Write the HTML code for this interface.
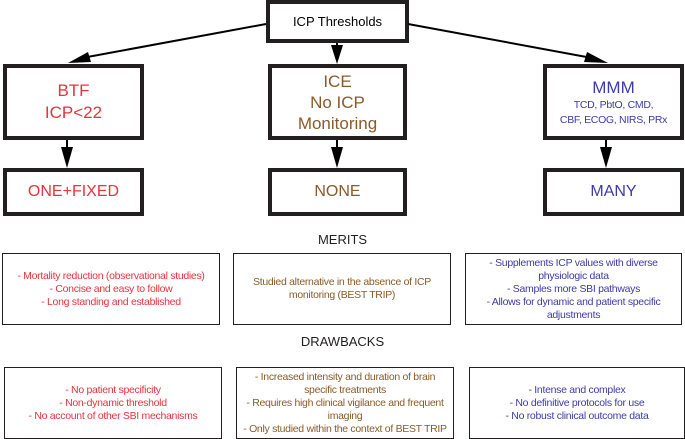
<!DOCTYPE html>
<html><head><meta charset="utf-8"><style>
body{margin:0;width:685px;height:439px;background:#fff;position:relative;overflow:hidden;font-family:"Liberation Sans",sans-serif}
.b{position:absolute;box-sizing:border-box;display:flex;align-items:center;justify-content:center;text-align:center}
.t{border:4px solid #231f20}
.s{border:1.5px solid #231f20;font-size:10.5px;line-height:13px;letter-spacing:-0.3px}
.r{color:#e8323c}.br{color:#8a5a2b}.bl{color:#3d3ba8}
.h{position:absolute;width:685px;text-align:center;font-size:13px;color:#231f20}
</style></head><body>
<div class="b t" style="left:266px;top:0;width:143px;height:43px;font-size:13px;background:#fff">ICP Thresholds</div>
<div class="b t r" style="left:3px;top:64px;width:141px;height:76px;font-size:17px;line-height:22px">BTF<br>ICP&lt;22</div>
<div class="b t br" style="left:268px;top:64px;width:139px;height:76px;font-size:17px;line-height:21px">ICE<br>No ICP<br>Monitoring</div>
<div class="b t bl" style="left:543px;top:64px;width:141px;height:76px;flex-direction:column"><div style="font-size:17px;line-height:21px">MMM</div><div style="font-size:10.5px;line-height:15px;letter-spacing:-0.3px">TCD, PbtO, CMD,<br>CBF, ECOG, NIRS, PRx</div></div>
<div class="b t r" style="left:3px;top:168px;width:141px;height:48px;font-size:16px">ONE+FIXED</div>
<div class="b t br" style="left:268px;top:168px;width:139px;height:48px;font-size:16px">NONE</div>
<div class="b t bl" style="left:543px;top:168px;width:141px;height:48px;font-size:16px">MANY</div>
<svg width="685" height="439" style="position:absolute;left:0;top:0">
<g stroke="#000" stroke-width="2" fill="none">
<line x1="266" y1="24" x2="82" y2="58"/>
<line x1="408" y1="24" x2="592" y2="58"/>
<line x1="337" y1="43" x2="337" y2="48"/>
<line x1="67" y1="140" x2="67" y2="148"/>
<line x1="337" y1="140" x2="337" y2="148"/>
<line x1="606" y1="140" x2="606" y2="148"/>
</g>
<g fill="#000">
<path d="M68,63 L88,52 L91,62 z"/>
<path d="M608,63 L587,52 L584,62 z"/>
<path d="M331,45 L343,45 L337,64 z"/>
<path d="M61,147 L73,147 L67,168 z"/>
<path d="M331,147 L343,147 L337,168 z"/>
<path d="M600,147 L612,147 L606,168 z"/>
</g>
</svg>
<div class="h" style="top:232px">MERITS</div>
<div class="b s r" style="left:2px;top:253px;width:218px;height:72px">- Mortality reduction (observational studies)<br>- Concise and easy to follow<br>- Long standing and established</div>
<div class="b s br" style="left:233px;top:253px;width:218px;height:72px">Studied alternative in the absence of ICP<br>monitoring (BEST TRIP)</div>
<div class="b s bl" style="left:465px;top:253px;width:217px;height:72px">- Supplements ICP values with diverse<br>physiologic data<br>- Samples more SBI pathways<br>- Allows for dynamic and patient specific<br>adjustments</div>
<div class="h" style="top:334px">DRAWBACKS</div>
<div class="b s r" style="left:4px;top:367px;width:218px;height:72px">- No patient specificity<br>- Non-dynamic threshold<br>- No account of other SBI mechanisms</div>
<div class="b s br" style="left:236px;top:367px;width:218px;height:72px">- Increased intensity and duration of brain<br>specific treatments<br>- Requires high clinical vigilance and frequent<br>imaging<br>- Only studied within the context of BEST TRIP</div>
<div class="b s bl" style="left:469px;top:367px;width:216px;height:72px">- Intense and complex<br>- No definitive protocols for use<br>- No robust clinical outcome data</div>
</body></html>
